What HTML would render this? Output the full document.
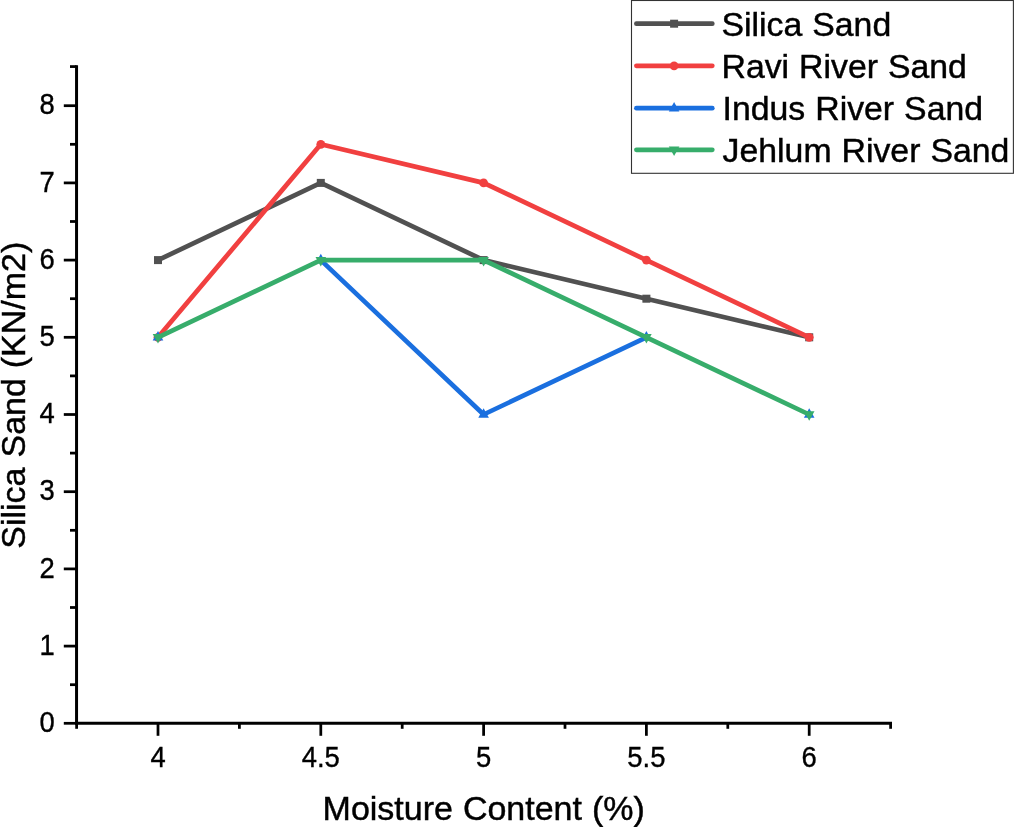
<!DOCTYPE html>
<html><head><meta charset="utf-8"><title>Chart</title>
<style>
html,body{margin:0;padding:0;background:#fff;}
body{width:1014px;height:827px;overflow:hidden;}
svg{display:block;}
text{font-family:"Liberation Sans",Arial,sans-serif;fill:#000;stroke:#000;stroke-width:0.45px;}
.tk{font-size:27.4px;stroke-width:0.35px;}
.tt{font-size:34px;word-spacing:0.5px;}
.lg{font-size:33.8px;word-spacing:0.6px;}
</style></head><body>
<svg width="1014" height="827" viewBox="0 0 1014 827">
<rect width="1014" height="827" fill="#fff"/>

<g stroke="#000" fill="none" stroke-linecap="butt">
<line x1="76.55" y1="65.2" x2="76.55" y2="724.8" stroke-width="3.0"/>
<line x1="75.05" y1="723.3" x2="892" y2="723.3" stroke-width="3.0"/>
<line x1="63.8" y1="723.30" x2="76.55" y2="723.30" stroke-width="2.75"/>
<line x1="70" y1="684.70" x2="76.55" y2="684.70" stroke-width="2.75"/>
<line x1="63.8" y1="646.10" x2="76.55" y2="646.10" stroke-width="2.75"/>
<line x1="70" y1="607.50" x2="76.55" y2="607.50" stroke-width="2.75"/>
<line x1="63.8" y1="568.90" x2="76.55" y2="568.90" stroke-width="2.75"/>
<line x1="70" y1="530.30" x2="76.55" y2="530.30" stroke-width="2.75"/>
<line x1="63.8" y1="491.70" x2="76.55" y2="491.70" stroke-width="2.75"/>
<line x1="70" y1="453.10" x2="76.55" y2="453.10" stroke-width="2.75"/>
<line x1="63.8" y1="414.50" x2="76.55" y2="414.50" stroke-width="2.75"/>
<line x1="70" y1="375.90" x2="76.55" y2="375.90" stroke-width="2.75"/>
<line x1="63.8" y1="337.30" x2="76.55" y2="337.30" stroke-width="2.75"/>
<line x1="70" y1="298.70" x2="76.55" y2="298.70" stroke-width="2.75"/>
<line x1="63.8" y1="260.10" x2="76.55" y2="260.10" stroke-width="2.75"/>
<line x1="70" y1="221.50" x2="76.55" y2="221.50" stroke-width="2.75"/>
<line x1="63.8" y1="182.90" x2="76.55" y2="182.90" stroke-width="2.75"/>
<line x1="70" y1="144.30" x2="76.55" y2="144.30" stroke-width="2.75"/>
<line x1="63.8" y1="105.70" x2="76.55" y2="105.70" stroke-width="2.75"/>
<line x1="70" y1="66.58" x2="76.55" y2="66.58" stroke-width="2.75"/>
<line x1="76.60" y1="723.3" x2="76.60" y2="728.8" stroke-width="2.75"/>
<line x1="158.00" y1="723.3" x2="158.00" y2="735.8" stroke-width="2.75"/>
<line x1="239.40" y1="723.3" x2="239.40" y2="728.8" stroke-width="2.75"/>
<line x1="320.80" y1="723.3" x2="320.80" y2="735.8" stroke-width="2.75"/>
<line x1="402.20" y1="723.3" x2="402.20" y2="728.8" stroke-width="2.75"/>
<line x1="483.60" y1="723.3" x2="483.60" y2="735.8" stroke-width="2.75"/>
<line x1="565.00" y1="723.3" x2="565.00" y2="728.8" stroke-width="2.75"/>
<line x1="646.40" y1="723.3" x2="646.40" y2="735.8" stroke-width="2.75"/>
<line x1="727.80" y1="723.3" x2="727.80" y2="728.8" stroke-width="2.75"/>
<line x1="809.20" y1="723.3" x2="809.20" y2="735.8" stroke-width="2.75"/>
<line x1="890.60" y1="723.3" x2="890.60" y2="728.8" stroke-width="2.75"/>
</g>
<text class="tk" transform="translate(47.1,732.00) scale(1,1.062)" text-anchor="middle">0</text>
<text class="tk" transform="translate(47.1,654.80) scale(1,1.062)" text-anchor="middle">1</text>
<text class="tk" transform="translate(47.1,577.60) scale(1,1.062)" text-anchor="middle">2</text>
<text class="tk" transform="translate(47.1,500.40) scale(1,1.062)" text-anchor="middle">3</text>
<text class="tk" transform="translate(47.1,423.20) scale(1,1.062)" text-anchor="middle">4</text>
<text class="tk" transform="translate(47.1,346.00) scale(1,1.062)" text-anchor="middle">5</text>
<text class="tk" transform="translate(47.1,268.80) scale(1,1.062)" text-anchor="middle">6</text>
<text class="tk" transform="translate(47.1,191.60) scale(1,1.062)" text-anchor="middle">7</text>
<text class="tk" transform="translate(47.1,114.40) scale(1,1.062)" text-anchor="middle">8</text>
<text class="tk" transform="translate(158.00,766.5) scale(1,1.062)" text-anchor="middle">4</text>
<text class="tk" transform="translate(320.80,766.5) scale(1,1.062)" text-anchor="middle">4.5</text>
<text class="tk" transform="translate(483.60,766.5) scale(1,1.062)" text-anchor="middle">5</text>
<text class="tk" transform="translate(646.40,766.5) scale(1,1.062)" text-anchor="middle">5.5</text>
<text class="tk" transform="translate(809.20,766.5) scale(1,1.062)" text-anchor="middle">6</text>
<text class="tt" x="483.7" y="819.9" text-anchor="middle">Moisture Content (%)</text>
<text class="tt" transform="translate(25.3,395.2) rotate(-90)" text-anchor="middle">Silica Sand (KN/m2)</text>
<polyline points="158.00,260.10 320.80,182.90 483.60,260.10 646.40,298.70 809.20,337.30" fill="none" stroke="#515151" stroke-width="4.7" stroke-linejoin="round" stroke-linecap="round"/>
<rect x="154.00" y="256.10" width="8.0" height="8.0" fill="#515151"/>
<rect x="316.80" y="178.90" width="8.0" height="8.0" fill="#515151"/>
<rect x="479.60" y="256.10" width="8.0" height="8.0" fill="#515151"/>
<rect x="642.40" y="294.70" width="8.0" height="8.0" fill="#515151"/>
<rect x="805.20" y="333.30" width="8.0" height="8.0" fill="#515151"/>
<polyline points="158.00,337.30 320.80,144.30 483.60,182.90 646.40,260.10 809.20,337.30" fill="none" stroke="#F14040" stroke-width="4.7" stroke-linejoin="round" stroke-linecap="round"/>
<circle cx="158.00" cy="337.30" r="4.4" fill="#F14040"/>
<circle cx="320.80" cy="144.30" r="4.4" fill="#F14040"/>
<circle cx="483.60" cy="182.90" r="4.4" fill="#F14040"/>
<circle cx="646.40" cy="260.10" r="4.4" fill="#F14040"/>
<circle cx="809.20" cy="337.30" r="4.4" fill="#F14040"/>
<polyline points="320.80,260.10 483.60,414.50 646.40,337.30" fill="none" stroke="#1A6FDF" stroke-width="4.7" stroke-linejoin="round" stroke-linecap="round"/>
<polygon points="158.00,331.00 163.30,340.50 152.70,340.50" fill="#1A6FDF"/>
<polygon points="320.80,253.80 326.10,263.30 315.50,263.30" fill="#1A6FDF"/>
<polygon points="483.60,408.20 488.90,417.70 478.30,417.70" fill="#1A6FDF"/>
<polygon points="646.40,331.00 651.70,340.50 641.10,340.50" fill="#1A6FDF"/>
<polygon points="809.20,408.20 814.50,417.70 803.90,417.70" fill="#1A6FDF"/>
<polyline points="158.00,337.30 320.80,260.10 483.60,260.10 646.40,337.30 809.20,414.50" fill="none" stroke="#37AD6B" stroke-width="4.7" stroke-linejoin="round" stroke-linecap="round"/>
<polygon points="158.00,343.60 163.30,334.10 152.70,334.10" fill="#37AD6B"/>
<polygon points="320.80,266.40 326.10,256.90 315.50,256.90" fill="#37AD6B"/>
<polygon points="483.60,266.40 488.90,256.90 478.30,256.90" fill="#37AD6B"/>
<polygon points="646.40,343.60 651.70,334.10 641.10,334.10" fill="#37AD6B"/>
<polygon points="809.20,420.80 814.50,411.30 803.90,411.30" fill="#37AD6B"/>
<rect x="631.5" y="0.5" width="381.9" height="172.8" fill="#fff" stroke="#333" stroke-width="1.1"/>
<line x1="636.4" y1="23.7" x2="712.3" y2="23.7" stroke="#515151" stroke-width="4.7" stroke-linecap="round"/>
<rect x="670.10" y="19.70" width="8.0" height="8.0" fill="#515151"/>
<text class="lg" x="721.5" y="35.6">Silica Sand</text>
<line x1="636.4" y1="65.8" x2="712.3" y2="65.8" stroke="#F14040" stroke-width="4.7" stroke-linecap="round"/>
<circle cx="674.10" cy="65.80" r="4.4" fill="#F14040"/>
<text class="lg" x="721.5" y="77.6">Ravi River Sand</text>
<line x1="636.4" y1="108.2" x2="712.3" y2="108.2" stroke="#1A6FDF" stroke-width="4.7" stroke-linecap="round"/>
<polygon points="674.10,101.90 679.40,111.40 668.80,111.40" fill="#1A6FDF"/>
<text class="lg" x="722.6" y="119.6">Indus River Sand</text>
<line x1="636.4" y1="149.8" x2="712.3" y2="149.8" stroke="#37AD6B" stroke-width="4.7" stroke-linecap="round"/>
<polygon points="674.10,156.10 679.40,146.60 668.80,146.60" fill="#37AD6B"/>
<text class="lg" x="722.6" y="161.6">Jehlum River Sand</text>
</svg></body></html>
